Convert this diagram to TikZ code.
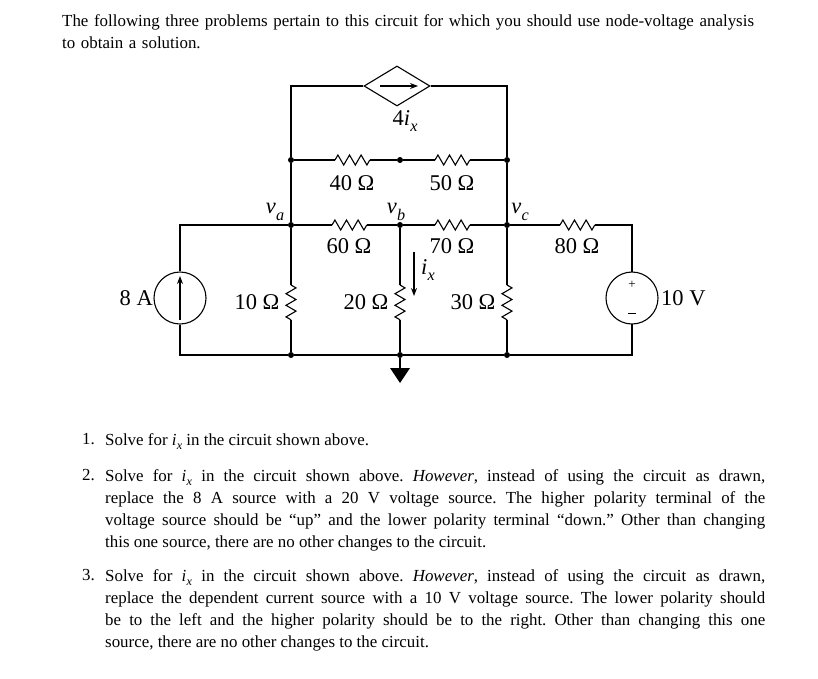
\documentclass[tikz,border=0pt]{standalone}
\usetikzlibrary{shapes.geometric,arrows.meta}
\usepackage{fontspec}
\setmainfont{Liberation Serif}
\frenchspacing
\newcommand\hres[3]{\draw[wire] (#1,#3) -- ++(2.9,-5) -- ++(5.8,10) -- ++(5.8,-10) -- ++(5.8,10) -- ++(5.8,-10) -- ++(5.8,10) -- ++(2.9,-5);}
\newcommand\vres[3]{\draw[wire] (#1,#2) -- ++(5,2.9) -- ++(-10,5.8) -- ++(10,5.8) -- ++(-10,5.8) -- ++(10,5.8) -- ++(-10,5.8) -- ++(5,2.9);}
\makeatletter
\newcommand\sub[2]{\textit{#1}\kern0.3pt\raisebox{-0.28em}{\fontsize{\dimexpr0.72\dimexpr\f@size pt\relax\relax}{0}\selectfont\textit{#2}}}
\makeatother
\begin{document}
\begin{tikzpicture}[x=1pt,y=-1pt,
  wire/.style={line width=1.1pt},
  dot/.style={circle,fill,inner sep=0pt,minimum size=6pt},
  lbl/.style={font=\fontsize{22.5}{22.5}\selectfont,inner sep=1pt},
  num/.style={anchor=north west,inner sep=0pt,font=\fontsize{16.9}{22}\selectfont\frenchspacing},
  para/.style={anchor=north west,inner sep=0pt,text width=660pt,align=justify,font=\fontsize{16.9}{22}\selectfont\frenchspacing}]
\useasboundingbox (0,0) rectangle (818,678);
% header
\node[anchor=north west,inner sep=0pt,text width=720pt,align=left,font=\fontsize{16.9}{22}\selectfont] (hdr) at (62,14) {The following three problems pertain to this circuit for which you should use node-voltage analysis\\to obtain a solution.};
% nodes
\node[dot] (na) at (291,225) {};
\node[dot] (nb) at (400,225) {};
\node[dot] (nc) at (507,225) {};
\node[dot] (ta) at (291,160) {};
\node[dot] (tm) at (400,160) {};
\node[dot] (tc) at (507,160) {};
\node[dot] (ga) at (291,355) {};
\node[dot] (gb) at (400,355) {};
\node[dot] (gc) at (507,355) {};
% top dependent source
\node[draw,diamond,line width=1.1pt,minimum width=66pt,minimum height=40pt,inner sep=0pt] (dep) at (397,86) {};
\draw[wire,-{Stealth[length=8pt]}] (380,86) -- (418,86);
\node[lbl] (deplbl) at (405,121) {4\sub{i}{x}};
\draw[wire] (dep.west) -- (291,86) -- (ta) -- (na);
\draw[wire] (dep.east) -- (507,86) -- (tc) -- (nc);
% 40, 50
\draw[wire] (ta) -- (335,160); \hres{335}{}{160} \draw[wire] (369.8,160) -- (tm) -- (435,160);
\hres{435}{}{160} \draw[wire] (469.8,160) -- (tc);
\node[lbl] (r40) at (352,183) {40 Ω};
\node[lbl] (r50) at (452,183) {50 Ω};
% 60 70 80
\draw[wire] (na) -- (332,225); \hres{332}{}{225} \draw[wire] (366.8,225) -- (nb) -- (435,225);
\hres{435}{}{225} \draw[wire] (469.8,225) -- (nc) -- (560,225);
\hres{560}{}{225} \draw[wire] (594.8,225) -- (632,225) -- (632,272);
\node[lbl] (r60) at (349,246) {60 Ω};
\node[lbl] (r70) at (452,246) {70 Ω};
\node[lbl] (r80) at (577,246) {80 Ω};
\node[lbl] (va) at (275,212) {\sub{v}{a}};
\node[lbl] (vb) at (396,212) {\sub{v}{b}};
\node[lbl] (vc) at (520,212) {\sub{v}{c}};
% verticals
\draw[wire] (na) -- (291,285); \vres{291}{285}{} \draw[wire] (291,319.8) -- (ga);
\draw[wire] (nb) -- (400,285); \vres{400}{285}{} \draw[wire] (400,319.8) -- (gb);
\draw[wire] (nc) -- (507,285); \vres{507}{285}{} \draw[wire] (507,319.8) -- (gc);
\node[lbl] (r10) at (257,302) {10 Ω};
\node[lbl] (r20) at (366,302) {20 Ω};
\node[lbl] (r30) at (473,302) {30 Ω};
\draw[wire,-{Stealth[length=8pt]}] (414,252) -- (414,296);
\node[lbl] (ix) at (428,270) {\sub{i}{x}};
% 8 A source
\node[draw,circle,line width=1.1pt,minimum size=52pt,inner sep=0pt] (src) at (180,298) {};
\draw[wire,-{Stealth[length=8pt]}] (180,320) -- (180,276);
\draw[wire] (src.north) -- (180,225) -- (na);
\draw[wire] (src.south) -- (180,355) -- (ga) -- (gb) -- (gc) -- (632,355) -- (632,324);
\node[lbl,anchor=east] (l8) at (154,298) {8 A};
% 10 V source
\node[draw,circle,line width=1.1pt,minimum size=52pt,inner sep=0pt] (vs) at (632,298) {};
\node[font=\fontsize{13}{13}\selectfont] (plus) at (632,285) {+};
\draw[line width=0.9pt] (628,313) -- (636,313);
\node[lbl,anchor=west] (l10) at (660,298) {10 V};
% ground
\draw[wire] (gb) -- (400,368);
\fill (390,368) -- (410,368) -- (400,383) -- cycle;
% list
\node[num] (n1) at (82,433) {1.};
\node[para] (p1) at (105,433) {Solve for \sub{i}{x} in the circuit shown above.};
\node[num] (n2) at (82,469) {2.};
\node[para] (p2) at (105,469) {Solve for \sub{i}{x} in the circuit shown above. \emph{However}, instead of using the circuit as drawn,\linebreak replace the 8 A source with a 20 V voltage source. The higher polarity terminal of the\linebreak voltage source should be “up” and the lower polarity terminal “down.” Other than changing\linebreak this one source, there are no other changes to the circuit.};
\node[num] (n3) at (82,569) {3.};
\node[para] (p3) at (105,569) {Solve for \sub{i}{x} in the circuit shown above. \emph{However}, instead of using the circuit as drawn,\linebreak replace the dependent current source with a 10 V voltage source. The lower polarity should\linebreak be to the left and the higher polarity should be to the right. Other than changing this one\linebreak source, there are no other changes to the circuit.};
\end{tikzpicture}
\end{document}
